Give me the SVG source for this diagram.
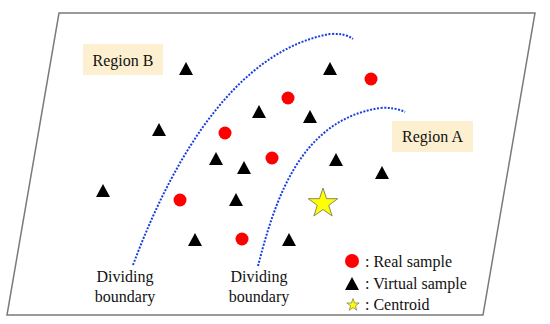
<svg xmlns="http://www.w3.org/2000/svg" width="550" height="324" viewBox="0 0 550 324">
<style>
.txt{font-family:'Liberation Serif','DejaVu Serif',serif;font-size:16px;fill:#111}
.mid{text-anchor:middle}
.real{fill:#ff0000}
.virt{fill:#000}
.region{fill:#fdf0d0}
.boundary{fill:none;stroke:#1a3fe0;stroke-width:2;stroke-dasharray:2 1.5}
.star{fill:#ffff00;stroke:#8a8a5a;stroke-width:1}
</style>
<defs>
<path id="tri" d="M0,-7 L7,6 L-7,6 Z"/>
<path id="star" d="M0,-15.5 L3.53,-4.85 L14.74,-4.79 L5.71,1.85 L9.11,12.54 L0,6 L-9.11,12.54 L-5.71,1.85 L-14.74,-4.79 L-3.53,-4.85 Z"/>
</defs>
<rect width="550" height="324" fill="#fff"/>
<g id="frame">
<polygon points="59,13 535,13 483,315 7,315" fill="#fff" stroke="#7a7a7a" stroke-width="1.5"/>
</g>
<g id="connectors">
<path class="boundary" d="M133,265 C176,150 240,50 330,34 Q345,33 353,39"/>
<path class="boundary" d="M258,266 C275,200 300,120 380,108 Q395,107 405,112"/>
</g>
<g id="regionB">
<rect class="region" x="83" y="44" width="80" height="31"/>
<text class="txt mid" x="123" y="66" font-family="Liberation Serif, serif">Region B</text>
</g>
<g id="regionA">
<rect class="region" x="392" y="121" width="81" height="31"/>
<text class="txt mid" x="432.5" y="142" font-family="Liberation Serif, serif">Region A</text>
</g>
<g id="virtual-samples" class="virt">
<use href="#tri" x="186" y="69"/>
<use href="#tri" x="259" y="112"/>
<use href="#tri" x="159" y="130"/>
<use href="#tri" x="330" y="69"/>
<use href="#tri" x="310" y="117"/>
<use href="#tri" x="216" y="159"/>
<use href="#tri" x="244" y="168"/>
<use href="#tri" x="336" y="160"/>
<use href="#tri" x="382" y="173"/>
<use href="#tri" x="103" y="191"/>
<use href="#tri" x="236" y="200"/>
<use href="#tri" x="195" y="240"/>
<use href="#tri" x="289" y="240"/>
</g>
<g id="real-samples" class="real">
<circle cx="371" cy="79" r="6.5"/>
<circle cx="288" cy="98" r="6.5"/>
<circle cx="225" cy="133" r="6.5"/>
<circle cx="272" cy="158" r="6.5"/>
<circle cx="180" cy="200" r="6.5"/>
<circle cx="242" cy="239" r="6.5"/>
</g>
<g id="centroid">
<use href="#star" class="star" x="323" y="203.5"/>
</g>
<g id="boundary-labels">
<text class="txt mid" x="125" y="282">Dividing</text>
<text class="txt mid" x="125" y="302">boundary</text>
<text class="txt mid" x="259" y="282">Dividing</text>
<text class="txt mid" x="259" y="302">boundary</text>
</g>
<g id="legend">
<circle class="real" cx="352" cy="261" r="7"/>
<text class="txt" x="365" y="267">: Real sample</text>
<use href="#tri" class="virt" x="352" y="284"/>
<text class="txt" x="365" y="289">: Virtual sample</text>
<g transform="translate(353,305) scale(0.42)"><use href="#star" class="star" style="stroke-width:2"/></g>
<text class="txt" x="365" y="310">: Centroid</text>
</g>
</svg>
